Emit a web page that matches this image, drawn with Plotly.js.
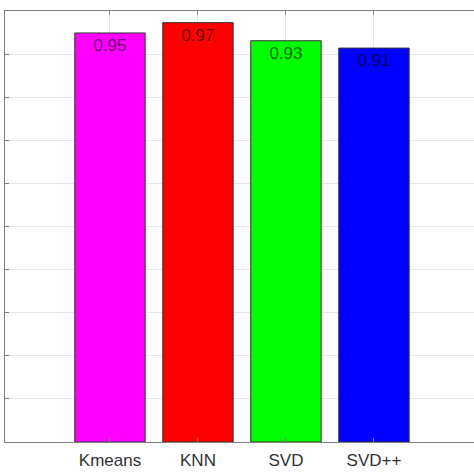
<!DOCTYPE html>
<html>
<head>
<meta charset="utf-8">
<script src="https://cdn.plot.ly/plotly-3.0.1.min.js"></script>
<style>
html,body{margin:0;padding:0;overflow:hidden;background:#fff;}
#chart{width:490px;height:474px;}
</style>
</head>
<body>
<div id="chart"></div>
<script>
const categories = ["Kmeans", "KNN", "SVD", "SVD++"];
const values = [0.949, 0.973, 0.931, 0.914];
const barColors = ["#ff00ff", "#ff0000", "#00ff00", "#0000ff"];
const yTicks = [0, 0.1, 0.2, 0.3, 0.4, 0.5, 0.6, 0.7, 0.8, 0.9, 1.0];

const xPos = categories.map((c, i) => i + 1);
const FONT = '"Liberation Sans Narrow", "Arial Narrow", Arial, "Liberation Sans", sans-serif';

const trace = {
  type: 'bar',
  x: xPos,
  y: values,
  width: 0.8,
  marker: { color: barColors, line: { color: '#333333', width: 1 } },
  text: values.map(v => v.toFixed(2)),
  textposition: 'inside',
  insidetextanchor: 'end',
  textangle: 0,
  textfont: { family: FONT, size: 17, color: 'rgba(0,0,0,0.6)' },
  hoverinfo: 'none'
};

const layout = {
  width: 490,
  height: 474,
  margin: { l: 5, r: 5, t: 11, b: 32, pad: 0 },
  paper_bgcolor: '#ffffff',
  plot_bgcolor: '#ffffff',
  showlegend: false,
  font: { family: FONT, size: 17, color: '#333333' },
  xaxis: {
    range: [-0.193, 5.262],
    tickvals: xPos,
    ticktext: categories,
    ticks: 'inside',
    ticklen: 4,
    tickcolor: '#808080',
    showline: true,
    linecolor: '#808080',
    linewidth: 1,
    mirror: 'ticks',
    showgrid: true,
    gridcolor: '#e6e6e6',
    zeroline: false,
    ticklabelstandoff: 3,
    tickfont: { family: FONT, size: 17, color: '#333333' }
  },
  yaxis: {
    range: [0, 1],
    tickvals: yTicks,
    showticklabels: false,
    ticks: 'inside',
    ticklen: 4,
    tickcolor: '#808080',
    showline: true,
    linecolor: '#808080',
    linewidth: 1,
    mirror: 'ticks',
    showgrid: true,
    gridcolor: '#e6e6e6',
    zeroline: false
  }
};

Plotly.newPlot('chart', [trace], layout, { staticPlot: true, displayModeBar: false });
</script>
</body>
</html>
